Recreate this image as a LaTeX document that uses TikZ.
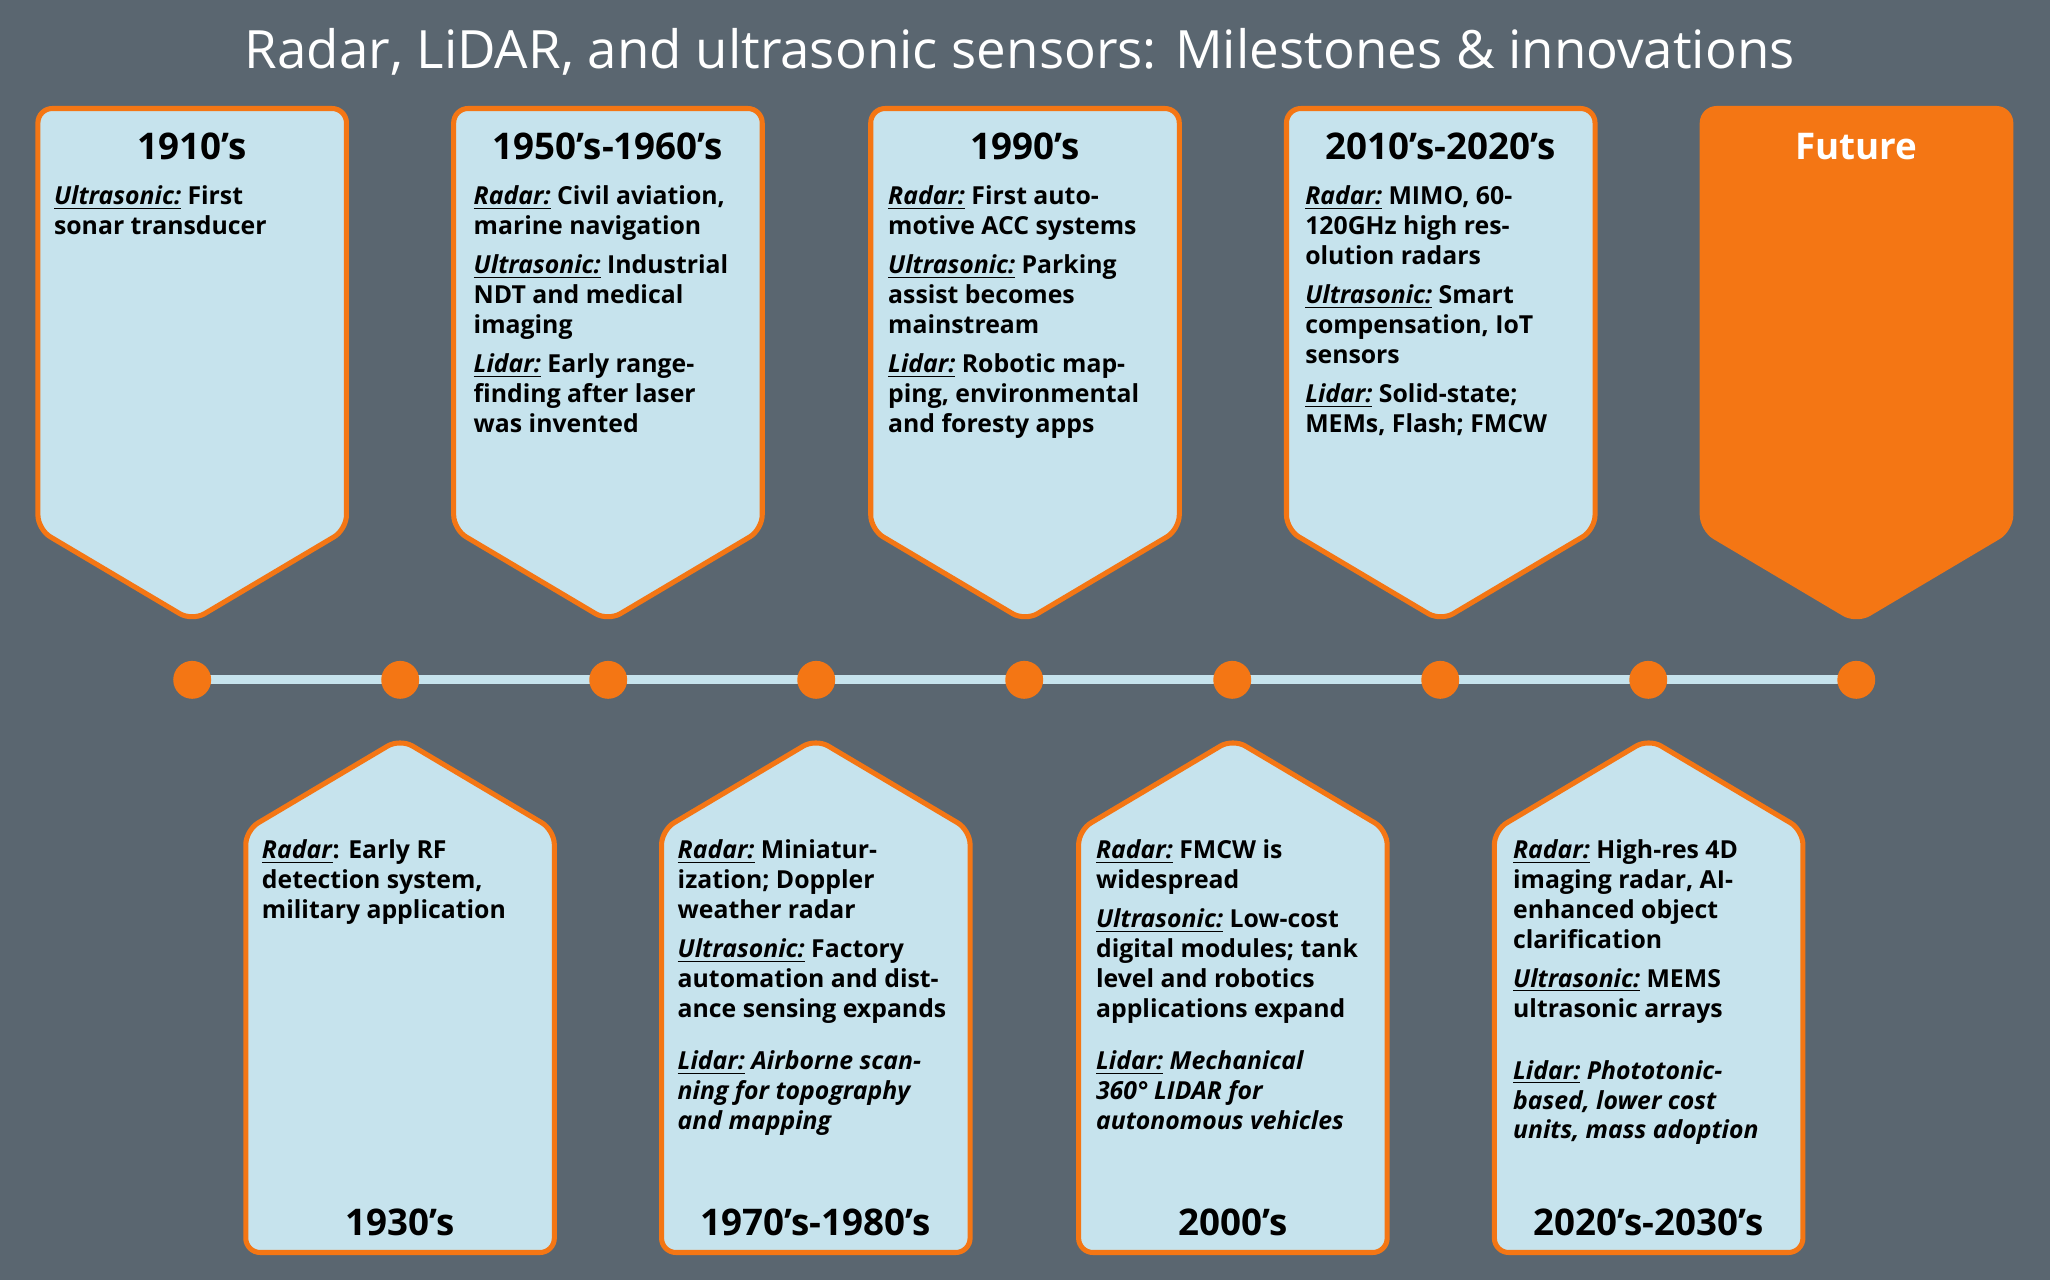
\documentclass[tikz,border=0pt]{standalone}
\usepackage{fontspec}
\setmainfont{Open Sans}
\usetikzlibrary{positioning}
\definecolor{slatebg}{RGB}{90,102,112}
\definecolor{icebox}{RGB}{198,227,237}
\definecolor{flame}{RGB}{244,118,20}

\newcommand{\lbl}[1]{\underline{\textit{#1}}}
% top and bottom pentagon boxes
\newcommand{\topbox}[3]{%
  \draw[era, fill=#3] (#1-118,83) -- (#1+118,83) -- (#1+118,405) -- (#1,475) -- (#1-118,405) -- cycle;}
\newcommand{\botbox}[2]{%
  \draw[era, fill=#2] (#1-118,958) -- (#1+118,958) -- (#1+118,635) -- (#1,565) -- (#1-118,635) -- cycle;}

\begin{document}
\begin{tikzpicture}[x=0.02cm, y=-0.02cm]
  \tikzstyle{era} = [draw=flame, line width=2.2pt, rounded corners=0.22cm]
  \tikzstyle{dot} = [circle, fill=flame, inner sep=0pt, minimum size=0.58cm]
  \tikzstyle{head} = [font=\bfseries\fontsize{16}{18}\selectfont, anchor=base]
  \tikzstyle{body} = [font=\bfseries\fontsize{10.8}{13}\selectfont, anchor=north west, align=left, inner sep=0pt]

  \fill[slatebg] (0,0) rectangle (1568,979);
  \node (title) [text=white, font=\fontsize{23}{26}\selectfont] at (780,40) {Radar, LiDAR, and ultrasonic sensors: Milestones \& innovations};

  % timeline
  \foreach \i in {0,...,8} {
    \coordinate (t\i) at (147+159.1*\i,520);
  }
  \draw[icebox, line width=4pt] (t0) -- (t8);
  \foreach \i in {0,...,8} {
    \node (d\i) [dot] at (t\i) {};
  }

  % upper boxes
  \topbox{147}{}{icebox}
  \topbox{465}{}{icebox}
  \topbox{784}{}{icebox}
  \topbox{1102}{}{icebox}
  \topbox{1420}{}{flame}
  \node (h1) [head] at (147,122) {1910’s};
  \node (h2) [head] at (465,122) {1950’s-1960’s};
  \node (h3) [head] at (784,122) {1990’s};
  \node (h4) [head] at (1102,122) {2010’s-2020’s};
  \node (h5) [head, text=white] at (1420,122) {Future};

  \node (b1) [body] at (41,142) {\lbl{Ultrasonic:} First\\sonar transducer};
  \node (b2) [body] at (362,142) {\lbl{Radar:} Civil aviation,\\marine navigation\\[4pt]
    \lbl{Ultrasonic:} Industrial\\NDT and medical\\imaging\\[4pt]
    \lbl{Lidar:} Early range-\\finding after laser\\was invented};
  \node (b3) [body] at (679,142) {\lbl{Radar:} First auto-\\motive ACC systems\\[4pt]
    \lbl{Ultrasonic:} Parking\\assist becomes\\mainstream\\[4pt]
    \lbl{Lidar:} Robotic map-\\ping, environmental\\and foresty apps};
  \node (b4) [body] at (998,142) {\lbl{Radar:} MIMO, 60-\\120GHz high res-\\olution radars\\[4pt]
    \lbl{Ultrasonic:} Smart\\compensation, IoT\\sensors\\[4pt]
    \lbl{Lidar:} Solid-state;\\MEMs, Flash; FMCW};

  % lower boxes
  \botbox{306}{icebox}
  \botbox{624}{icebox}
  \botbox{943}{icebox}
  \botbox{1261}{icebox}
  \node (h6) [head] at (306,945) {1930’s};
  \node (h7) [head] at (624,945) {1970’s-1980’s};
  \node (h8) [head] at (943,945) {2000’s};
  \node (h9) [head] at (1261,945) {2020’s-2030’s};

  \node (b6) [body] at (200,642) {\lbl{Radar}: Early RF\\detection system,\\military application};
  \node (b7) [body] at (518,642) {\lbl{Radar:} Miniatur-\\ization; Doppler\\weather radar\\[4pt]
    \lbl{Ultrasonic:} Factory\\automation and dist-\\ance sensing expands\\[10pt]
    \lbl{Lidar:} \textit{Airborne scan-}\\\textit{ning for topography}\\\textit{and mapping}};
  \node (b8) [body] at (838,642) {\lbl{Radar:} FMCW is\\widespread\\[4pt]
    \lbl{Ultrasonic:} Low-cost\\digital modules; tank\\level and robotics\\applications expand\\[10pt]
    \lbl{Lidar:} \textit{Mechanical}\\\textit{360° LIDAR for}\\\textit{autonomous vehicles}};
  \node (b9) [body] at (1157,642) {\lbl{Radar:} High-res 4D\\imaging radar, AI-\\enhanced object\\clarification\\[4pt]
    \lbl{Ultrasonic:} MEMS\\ultrasonic arrays\\[14pt]
    \lbl{Lidar:} \textit{Phototonic-}\\\textit{based, lower cost}\\\textit{units, mass adoption}};
\end{tikzpicture}
\end{document}
